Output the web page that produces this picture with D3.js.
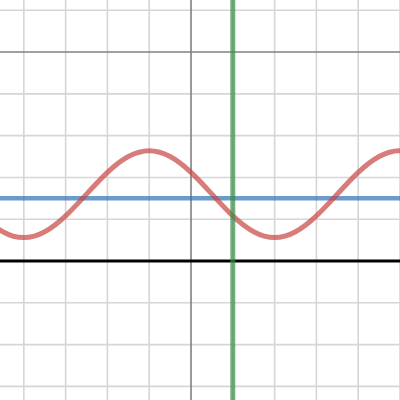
<!DOCTYPE html>
<html><head><meta charset="utf-8">
<script src="https://cdn.jsdelivr.net/npm/d3@7"></script>
<style>html,body{margin:0;padding:0;background:#fff;}svg{display:block;}</style>
</head><body>
<script>
// Data (graph units)
const gridX = [-4, -3, -2, -1, 1, 2, 3, 4, 5];
const gridY = [1, -1, -2, -3, -4, -5, -6, -7, -8];
const blackLineY = -5;
const blueLineY = -3.5;
const greenLineX = 1;
const redX = [-5, -4.5, -4, -3.5, -3, -2.5, -2, -1.5, -1, -0.5, 0, 0.5, 1, 1.5, 2, 2.5, 3, 3.5, 4, 4.5, 5, 5.5];
const redY = [-3.92, -4.30, -4.44, -4.30, -3.92, -3.40, -2.88, -2.50, -2.36, -2.50, -2.88, -3.40, -3.92, -4.30, -4.44, -4.30, -3.92, -3.40, -2.88, -2.50, -2.36, -2.50];

const W = 400, H = 400;
const x = d3.scaleLinear().domain([-4.57, 5.0]).range([0, W]);
const y = d3.scaleLinear().domain([1.245, -8.325]).range([0, H]);

const svg = d3.select("body").append("svg").attr("width", W).attr("height", H);
svg.append("rect").attr("width", W).attr("height", H).attr("fill", "#fff");

svg.append("g").selectAll("line").data(gridX).join("line")
  .attr("x1", d => x(d)).attr("x2", d => x(d)).attr("y1", 0).attr("y2", H)
  .attr("stroke", "#d6d6d6").attr("stroke-width", 1.6);
svg.append("g").selectAll("line").data(gridY).join("line")
  .attr("y1", d => y(d)).attr("y2", d => y(d)).attr("x1", 0).attr("x2", W)
  .attr("stroke", "#d6d6d6").attr("stroke-width", 1.6);

// axes
svg.append("line").attr("x1", x(0)).attr("x2", x(0)).attr("y1", 0).attr("y2", H)
  .attr("stroke", "#808080").attr("stroke-width", 1.6);
svg.append("line").attr("y1", y(0)).attr("y2", y(0)).attr("x1", 0).attr("x2", W)
  .attr("stroke", "#808080").attr("stroke-width", 1.6);

// black line
svg.append("line").attr("y1", y(blackLineY)).attr("y2", y(blackLineY)).attr("x1", 0).attr("x2", W)
  .attr("stroke", "#000").attr("stroke-width", 3.2);
// blue line
svg.append("line").attr("y1", y(blueLineY)).attr("y2", y(blueLineY)).attr("x1", 0).attr("x2", W)
  .attr("stroke", "#2d70b3").attr("stroke-opacity", 0.7).attr("stroke-width", 4.5);
// red curve
const pts = redX.map((d, i) => [d, redY[i]]);
svg.append("path").datum(pts)
  .attr("d", d3.line().x(d => x(d[0])).y(d => y(d[1])).curve(d3.curveNatural))
  .attr("fill", "none").attr("stroke", "#c74440").attr("stroke-opacity", 0.7).attr("stroke-width", 5);
// green line
svg.append("line").attr("x1", x(greenLineX)).attr("x2", x(greenLineX)).attr("y1", 0).attr("y2", H)
  .attr("stroke", "#388c46").attr("stroke-opacity", 0.7).attr("stroke-width", 5);
</script>
</body></html>
